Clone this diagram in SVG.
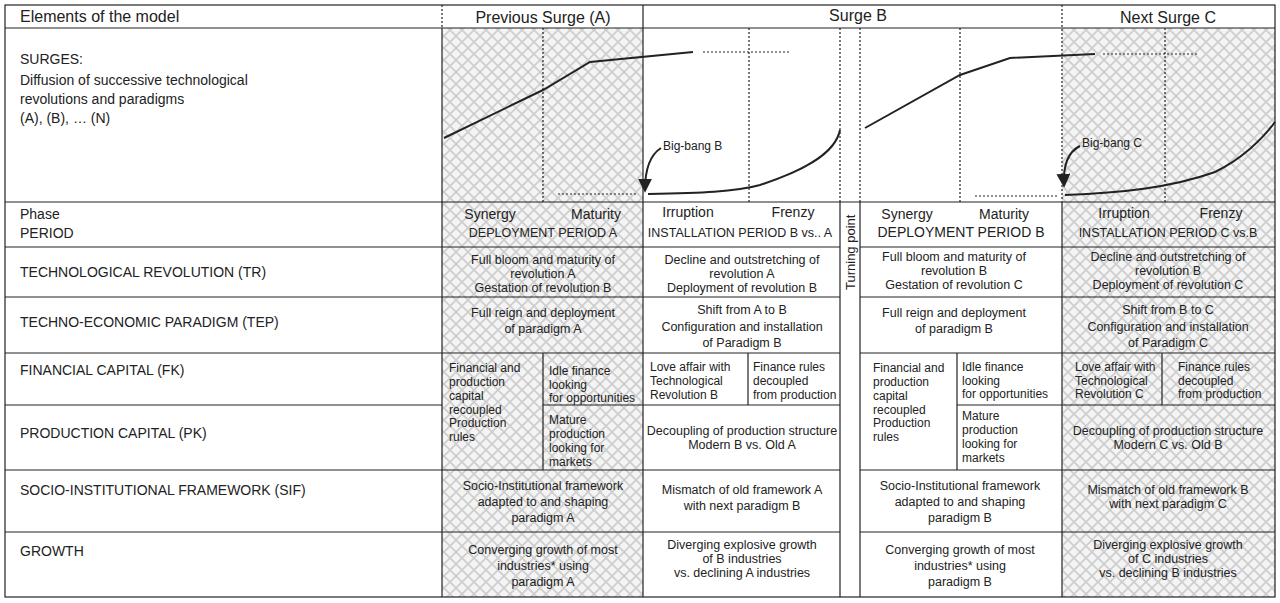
<svg xmlns="http://www.w3.org/2000/svg" width="1280" height="603" viewBox="0 0 1280 603">
<defs>
<pattern id="h" width="12" height="12" patternUnits="userSpaceOnUse">
<rect width="12" height="12" fill="#f4f4f4"/>
<path d="M0 0L12 12M12 0L0 12" stroke="#cdcdcd" stroke-width="1.6"/>
</pattern>
<marker id="ar" viewBox="0 0 10 10" refX="8" refY="5" markerWidth="7" markerHeight="7" orient="auto"><path d="M0 0L10 5L0 10z" fill="#222"/></marker>
</defs>
<style>
text{font-family:"Liberation Sans",Arial,sans-serif;fill:#222}
.l{font-size:14px}.c{font-size:12.5px;text-anchor:middle}.s{font-size:12px}
.p{font-size:14px;text-anchor:middle}
.g{stroke:#222;stroke-width:1.2;fill:none}
.d{stroke:#222;stroke-width:1.2;stroke-dasharray:2 2;fill:none}
.cv{stroke:#222;stroke-width:2;fill:none}
</style>
<rect width="1280" height="603" fill="#fff"/>
<g id="hatch">
<rect x="442" y="28" width="201" height="569" fill="url(#h)"/>
<rect x="1062" y="28" width="213" height="569" fill="url(#h)"/>
</g>
<g id="grid">
<rect x="5" y="5" width="1270" height="592" class="g"/>
<line x1="5" y1="28" x2="1275" y2="28" class="g"/>
<line x1="5" y1="202" x2="1275" y2="202" class="g"/>
<line x1="5" y1="247" x2="840" y2="247" class="g"/><line x1="860" y1="247" x2="1275" y2="247" class="g"/>
<line x1="5" y1="297" x2="840" y2="297" class="g"/><line x1="860" y1="297" x2="1275" y2="297" class="g"/>
<line x1="5" y1="353" x2="840" y2="353" class="g"/><line x1="860" y1="353" x2="1275" y2="353" class="g"/>
<line x1="5" y1="405" x2="442" y2="405" class="g"/><line x1="543" y1="405" x2="840" y2="405" class="g"/><line x1="957" y1="405" x2="1275" y2="405" class="g"/>
<line x1="5" y1="470" x2="840" y2="470" class="g"/><line x1="860" y1="470" x2="1275" y2="470" class="g"/>
<line x1="5" y1="532" x2="840" y2="532" class="g"/><line x1="860" y1="532" x2="1275" y2="532" class="g"/>
<line x1="442" y1="28" x2="442" y2="597" class="g"/>
<line x1="643" y1="5" x2="643" y2="597" class="g"/>
<line x1="840" y1="202" x2="840" y2="597" class="g"/>
<line x1="860" y1="202" x2="860" y2="597" class="g"/>
<line x1="1062" y1="202" x2="1062" y2="597" class="g"/>
<line x1="543" y1="353" x2="543" y2="470" class="g"/>
<line x1="748" y1="353" x2="748" y2="405" class="g"/>
<line x1="957" y1="353" x2="957" y2="470" class="g"/>
<line x1="1162" y1="353" x2="1162" y2="405" class="g"/>
<line x1="442" y1="5" x2="442" y2="28" class="d"/>
<line x1="1062" y1="5" x2="1062" y2="202" class="d"/>
<line x1="543" y1="28" x2="543" y2="202" class="d"/>
<line x1="749" y1="28" x2="749" y2="202" class="d"/>
<line x1="840" y1="28" x2="840" y2="202" class="d"/>
<line x1="860" y1="28" x2="860" y2="202" class="d"/>
<line x1="960" y1="28" x2="960" y2="202" class="d"/>
<line x1="1165" y1="28" x2="1165" y2="202" class="d"/>
</g>
<g id="connectors">
<polyline points="444,138 543,90 590,62 693,52" class="cv"/>
<line x1="703" y1="52" x2="790" y2="52" class="d" stroke-width="2"/>
<line x1="558" y1="194" x2="637" y2="194" class="d" stroke-width="2"/>
<path d="M648 194 C700 193 735 192 760 185 C800 172 835 155 840 130" class="cv"/>
<polyline points="865,128 960,75 1010,58 1095,54" class="cv"/>
<line x1="1103" y1="54" x2="1197" y2="54" class="d" stroke-width="2"/>
<line x1="975" y1="196" x2="1058" y2="196" class="d" stroke-width="2"/>
<path d="M1065 195 C1120 193 1170 188 1215 172 C1240 160 1262 140 1275 122" class="cv"/>
<path d="M661 148 C650 155 645 170 645 190" class="cv" stroke-width="1.8" marker-end="url(#ar)"/>
<path d="M1080 146 C1068 152 1063 165 1064 185" class="cv" stroke-width="1.8" marker-end="url(#ar)"/>
</g>
<g id="labels">
<text x="20" y="22" font-size="16">Elements of the model</text>
<text x="543" y="23" font-size="16" text-anchor="middle">Previous Surge (A)</text>
<text x="858" y="21" font-size="16" text-anchor="middle">Surge B</text>
<text x="1168" y="23" font-size="16" text-anchor="middle">Next Surge C</text>
<text x="663" y="150" class="s">Big-bang B</text>
<text x="1082" y="147" class="s">Big-bang C</text>
<text class="l" x="20" y="64">SURGES:</text>
<text class="l" x="20" y="85">Diffusion of successive technological</text>
<text class="l" x="20" y="104">revolutions and paradigms</text>
<text class="l" x="20" y="123">(A), (B), … (N)</text>
<text class="l" x="20" y="219">Phase</text><text class="l" x="20" y="238">PERIOD</text>
<text class="l" x="20" y="277">TECHNOLOGICAL REVOLUTION (TR)</text>
<text class="l" x="20" y="327">TECHNO-ECONOMIC PARADIGM (TEP)</text>
<text class="l" x="20" y="375">FINANCIAL CAPITAL (FK)</text>
<text class="l" x="20" y="438">PRODUCTION CAPITAL (PK)</text>
<text class="l" x="20" y="495">SOCIO-INSTITUTIONAL FRAMEWORK (SIF)</text>
<text class="l" x="20" y="556">GROWTH</text>
<text x="855" y="290" font-size="13" transform="rotate(-90 855 290)">Turning point</text>
</g>
<g id="colA">
<text class="p" x="490" y="219">Synergy</text><text class="p" x="596" y="219">Maturity</text>
<text class="c" x="543" y="237" font-size="12.5">DEPLOYMENT PERIOD A</text>
<text class="c" x="543" y="264">Full bloom and maturity of</text><text class="c" x="543" y="278">revolution A</text><text class="c" x="543" y="292">Gestation of revolution B</text>
<text class="c" x="543" y="317">Full reign and deployment</text><text class="c" x="543" y="333">of paradigm A</text>
<text class="s" x="449" y="372">Financial and</text><text class="s" x="449" y="386">production</text><text class="s" x="449" y="400">capital</text><text class="s" x="449" y="414">recoupled</text><text class="s" x="449" y="427">Production</text><text class="s" x="449" y="441">rules</text>
<text class="s" x="549" y="375">Idle finance</text><text class="s" x="549" y="389">looking</text><text class="s" x="549" y="402">for opportunities</text>
<text class="s" x="549" y="424">Mature</text><text class="s" x="549" y="438">production</text><text class="s" x="549" y="452">looking for</text><text class="s" x="549" y="466">markets</text>
<text class="c" x="543" y="490">Socio-Institutional framework</text><text class="c" x="543" y="506">adapted to and shaping</text><text class="c" x="543" y="522">paradigm A</text>
<text class="c" x="543" y="554">Converging growth of most</text><text class="c" x="543" y="570">industries* using</text><text class="c" x="543" y="586">paradigm A</text>
</g>
<g id="colB">
<text class="p" x="688" y="217">Irruption</text><text class="p" x="793" y="217">Frenzy</text>
<text class="c" x="740" y="237" font-size="12">INSTALLATION PERIOD B vs.. A</text>
<text class="c" x="742" y="264">Decline and outstretching of</text><text class="c" x="742" y="278">revolution A</text><text class="c" x="742" y="292">Deployment of revolution B</text>
<text class="c" x="742" y="314">Shift from A to B</text><text class="c" x="742" y="331">Configuration and installation</text><text class="c" x="742" y="347">of Paradigm B</text>
<text class="s" x="650" y="371">Love affair with</text><text class="s" x="650" y="385">Technological</text><text class="s" x="650" y="399">Revolution B</text>
<text class="s" x="753" y="371">Finance rules</text><text class="s" x="753" y="385">decoupled</text><text class="s" x="753" y="399">from production</text>
<text class="c" x="742" y="435" font-size="12">Decoupling of production structure</text><text class="c" x="742" y="449" font-size="12">Modern B vs. Old A</text>
<text class="c" x="742" y="494" font-size="12">Mismatch of old framework A</text><text class="c" x="742" y="510" font-size="12">with next paradigm B</text>
<text class="c" x="742" y="549" font-size="12">Diverging explosive growth</text><text class="c" x="742" y="563" font-size="12">of B industries</text><text class="c" x="742" y="577" font-size="12">vs. declining A industries</text>
</g>
<g id="colBdep">
<text class="p" x="907" y="219">Synergy</text><text class="p" x="1004" y="219">Maturity</text>
<text class="p" x="961" y="237">DEPLOYMENT PERIOD B</text>
<text class="c" x="954" y="261">Full bloom and maturity of</text><text class="c" x="954" y="275">revolution B</text><text class="c" x="954" y="289">Gestation of revolution C</text>
<text class="c" x="954" y="317">Full reign and deployment</text><text class="c" x="954" y="333">of paradigm B</text>
<text class="s" x="873" y="372">Financial and</text><text class="s" x="873" y="386">production</text><text class="s" x="873" y="400">capital</text><text class="s" x="873" y="414">recoupled</text><text class="s" x="873" y="427">Production</text><text class="s" x="873" y="441">rules</text>
<text class="s" x="962" y="371">Idle finance</text><text class="s" x="962" y="385">looking</text><text class="s" x="962" y="398">for opportunities</text>
<text class="s" x="962" y="420">Mature</text><text class="s" x="962" y="434">production</text><text class="s" x="962" y="448">looking for</text><text class="s" x="962" y="462">markets</text>
<text class="c" x="960" y="490">Socio-Institutional framework</text><text class="c" x="960" y="506">adapted to and shaping</text><text class="c" x="960" y="522">paradigm B</text>
<text class="c" x="960" y="554">Converging growth of most</text><text class="c" x="960" y="570">industries* using</text><text class="c" x="960" y="586">paradigm B</text>
</g>
<g id="colC">
<text class="p" x="1124" y="218">Irruption</text><text class="p" x="1221" y="218">Frenzy</text>
<text class="c" x="1168" y="237" font-size="13">INSTALLATION PERIOD C vs.B</text>
<text class="c" x="1168" y="261">Decline and outstretching of</text><text class="c" x="1168" y="275">revolution B</text><text class="c" x="1168" y="289">Deployment of revolution C</text>
<text class="c" x="1168" y="314">Shift from B to C</text><text class="c" x="1168" y="331">Configuration and installation</text><text class="c" x="1168" y="347">of Paradigm C</text>
<text class="s" x="1075" y="371">Love affair with</text><text class="s" x="1075" y="385">Technological</text><text class="s" x="1075" y="398">Revolution C</text>
<text class="s" x="1178" y="371">Finance rules</text><text class="s" x="1178" y="385">decoupled</text><text class="s" x="1178" y="398">from production</text>
<text class="c" x="1168" y="435" font-size="12">Decoupling of production structure</text><text class="c" x="1168" y="449" font-size="12">Modern C vs. Old B</text>
<text class="c" x="1168" y="494" font-size="12">Mismatch of old framework B</text><text class="c" x="1168" y="508" font-size="12">with next paradigm C</text>
<text class="c" x="1168" y="549" font-size="12">Diverging explosive growth</text><text class="c" x="1168" y="563" font-size="12">of C industries</text><text class="c" x="1168" y="577" font-size="12">vs. declining B industries</text>
</g>
</svg>
